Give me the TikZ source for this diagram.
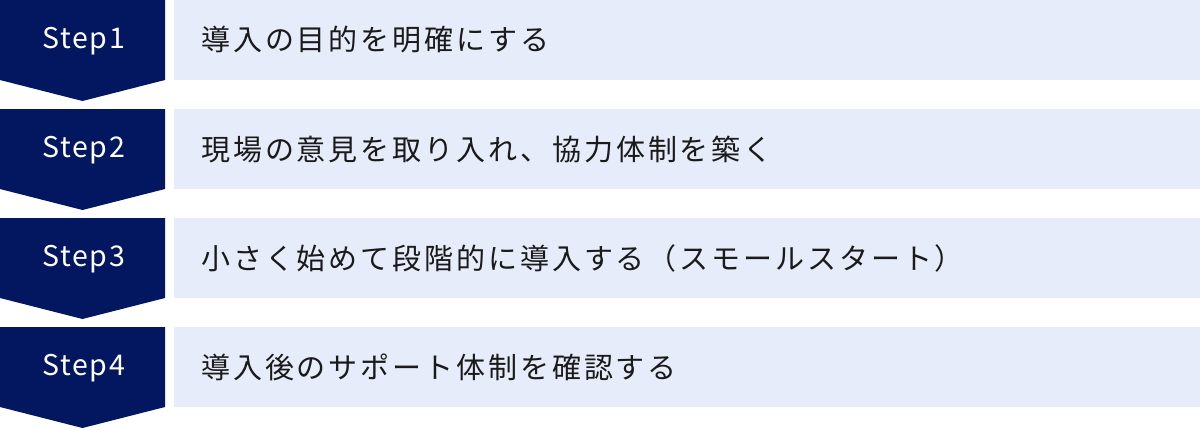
\documentclass[tikz,border=0pt]{standalone}
\usepackage{fontspec}
\setmainfont{Noto Sans CJK JP}
\newfontfamily\jpfont[LetterSpace=10]{Noto Sans CJK JP}
\newfontfamily\stepfont[LetterSpace=6]{Noto Sans CJK JP}
\definecolor{navy}{RGB}{3,22,96}
\definecolor{lightbg}{RGB}{230,236,249}
\definecolor{txt}{RGB}{26,26,26}
\tikzset{
  steplabel/.style={text=white, font=\stepfont\fontsize{28.5}{28.5}\selectfont, inner sep=0pt, anchor=center},
  itemtext/.style={text=txt, font=\jpfont\fontsize{29}{29}\selectfont, inner sep=0pt, anchor=west},
}
\begin{document}
\begin{tikzpicture}[x=1pt,y=-1pt]
\useasboundingbox (0,0) rectangle (1200,429);
\foreach \i/\t in {0/導入の目的を明確にする,1/現場の意見を取り入れ、協力体制を築く,2/小さく始めて段階的に導入する（スモールスタート）,3/導入後のサポート体制を確認する}{
  \pgfmathsetmacro{\yy}{\i*109}
  \fill[lightbg] (174,\yy) rectangle (1200,\yy+80);
  \fill[navy] (0,\yy) -- (165,\yy) -- (165,\yy+80) -- (82.5,\yy+101) -- (0,\yy+80) -- cycle;
  \pgfmathtruncatemacro{\n}{\i+1}
  \node[steplabel] (step\n) at (83.5,\yy+41.5) {Step\n};
  \node[itemtext] (item\n) at (201,\yy+40) {\t};
}
\end{tikzpicture}
\end{document}
